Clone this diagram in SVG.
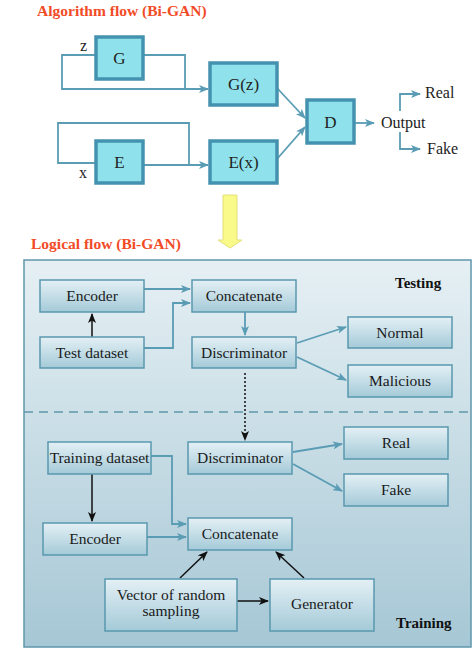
<svg xmlns="http://www.w3.org/2000/svg" width="474" height="671" viewBox="0 0 474 671">
<defs>
<linearGradient id="panelGrad" x1="0" y1="0" x2="0" y2="1">
<stop offset="0" stop-color="#e6f0f4"/>
<stop offset="1" stop-color="#a6c7d5"/>
</linearGradient>
<linearGradient id="boxGrad" x1="0" y1="0" x2="0" y2="1">
<stop offset="0" stop-color="#e4f0f5"/>
<stop offset="1" stop-color="#a4cad8"/>
</linearGradient>
<marker id="aT" markerWidth="10" markerHeight="8" refX="9" refY="4" orient="auto" markerUnits="userSpaceOnUse">
<path d="M0,0 L10,4 L0,8 L2.5,4 Z" fill="#5a9cb4"/>
</marker>
<marker id="aK" markerWidth="10" markerHeight="8" refX="9" refY="4" orient="auto" markerUnits="userSpaceOnUse">
<path d="M0,0 L10,4 L0,8 L2.5,4 Z" fill="#111"/>
</marker>
<style>
.title{font-family:"Liberation Serif",serif;font-weight:bold;font-size:15.5px;fill:#f24b27}
.big{fill:#8fe2ec;stroke:#4592b0;stroke-width:3.5}
.bigt{font-family:"Liberation Serif",serif;font-size:17px;fill:#222;text-anchor:middle}
.lbl{font-family:"Liberation Serif",serif;font-size:16px;fill:#222}
.box{fill:url(#boxGrad);stroke:#5a98ae;stroke-width:1.5}
.bt{font-family:"Liberation Serif",serif;font-size:15.5px;fill:#1a1a1a;text-anchor:middle}
.sec{font-family:"Liberation Serif",serif;font-weight:bold;font-size:15px;fill:#111}
.tl{fill:none;stroke:#5a9cb4;stroke-width:1.8}
.kl{fill:none;stroke:#111;stroke-width:1.5}
</style>
</defs>

<text class="title" x="37" y="16">Algorithm flow (Bi-GAN)</text>
<text class="title" x="31" y="249">Logical flow (Bi-GAN)</text>

<g id="connectors-top">
<path class="tl" d="M95,55 H62 V89 H208" marker-end="url(#aT)"/>
<path class="tl" d="M143,55 H185 V89"/>
<path class="tl" d="M95,163 H58 V123 H189 V165"/>
<path class="tl" d="M143,165 H208" marker-end="url(#aT)"/>
<path class="tl" d="M277,88 L305,118" marker-end="url(#aT)"/>
<path class="tl" d="M277,159 L305,127" marker-end="url(#aT)"/>
<path class="tl" d="M354,123 H374" marker-end="url(#aT)"/>
<path class="tl" d="M400,111 V94 H420" marker-end="url(#aT)"/>
<path class="tl" d="M400,132 V149 H420" marker-end="url(#aT)"/>
</g>

<g id="node-G"><rect class="big" x="96" y="37" width="47" height="42"/><text class="bigt" x="119.5" y="64">G</text></g>
<g id="node-Gz"><rect class="big" x="210" y="63" width="67" height="42"/><text class="bigt" x="243.5" y="90">G(z)</text></g>
<g id="node-E"><rect class="big" x="96" y="141" width="47" height="42"/><text class="bigt" x="119.5" y="168">E</text></g>
<g id="node-Ex"><rect class="big" x="210" y="141" width="67" height="42"/><text class="bigt" x="243.5" y="168">E(x)</text></g>
<g id="node-D"><rect class="big" x="307" y="100" width="47" height="43"/><text class="bigt" x="330.5" y="128">D</text></g>
<text class="lbl" x="80" y="51">z</text>
<text class="lbl" x="79" y="178">x</text>
<text class="lbl" x="381" y="128">Output</text>
<text class="lbl" x="425" y="98">Real</text>
<text class="lbl" x="427" y="154">Fake</text>

<g id="yellow-arrow">
<path d="M223,195 H237 V240 H242 L230,248 L218,240 H223 Z" fill="#fafa8a" stroke="#e2e07a" stroke-width="1"/>
</g>

<rect x="24" y="260" width="447" height="387" fill="url(#panelGrad)" stroke="#5f97ab" stroke-width="1.5"/>
<line x1="24" y1="412" x2="471" y2="412" stroke="#5f97ab" stroke-width="1.5" stroke-dasharray="9,6"/>
<text class="sec" x="395" y="288">Testing</text>
<text class="sec" x="396" y="628">Training</text>

<g id="connectors">
<path class="tl" d="M144,289 H190" marker-end="url(#aT)"/>
<path class="tl" d="M144,348 H173 V303 H190" marker-end="url(#aT)"/>
<path class="kl" d="M92,337 V314" marker-end="url(#aK)"/>
<path class="tl" d="M245,312 V335" marker-end="url(#aT)"/>
<path class="tl" d="M297,343 L346,327" marker-end="url(#aT)"/>
<path class="tl" d="M297,357 L346,380" marker-end="url(#aT)"/>
<path d="M245,373 V440" fill="none" stroke="#111" stroke-width="1.5" stroke-dasharray="2,2" marker-end="url(#aK)"/>
<path class="tl" d="M293,452 L342,444" marker-end="url(#aT)"/>
<path class="tl" d="M293,464 L342,491" marker-end="url(#aT)"/>
<path class="kl" d="M92,474 V521" marker-end="url(#aK)"/>
<path class="tl" d="M151,456 H172 V524 H186" marker-end="url(#aT)"/>
<path class="tl" d="M147,537 H186" marker-end="url(#aT)"/>
<path class="kl" d="M237,601 H268" marker-end="url(#aK)"/>
<path class="kl" d="M180,578 L207,552" marker-end="url(#aK)"/>
<path class="kl" d="M304,578 L276,552" marker-end="url(#aK)"/>
</g>

<g id="node-encoder-test"><rect class="box" x="40" y="280" width="104" height="32"/><text class="bt" x="92" y="301">Encoder</text></g>
<g id="node-concat-test"><rect class="box" x="192" y="280" width="104" height="32"/><text class="bt" x="244" y="301">Concatenate</text></g>
<g id="node-testdata"><rect class="box" x="40" y="337" width="104" height="31"/><text class="bt" x="92" y="358">Test dataset</text></g>
<g id="node-disc-test"><rect class="box" x="192" y="337" width="104" height="31"/><text class="bt" x="244" y="358">Discriminator</text></g>
<g id="node-normal"><rect class="box" x="348" y="317" width="104" height="31"/><text class="bt" x="400" y="338">Normal</text></g>
<g id="node-malicious"><rect class="box" x="348" y="365" width="104" height="32"/><text class="bt" x="400" y="386">Malicious</text></g>

<g id="node-traindata"><rect class="box" x="48" y="442" width="103" height="32"/><text class="bt" x="99.5" y="463">Training dataset</text></g>
<g id="node-disc-train"><rect class="box" x="188" y="442" width="104" height="32"/><text class="bt" x="240" y="463">Discriminator</text></g>
<g id="node-real"><rect class="box" x="344" y="427" width="104" height="32"/><text class="bt" x="396" y="448">Real</text></g>
<g id="node-fake"><rect class="box" x="344" y="474" width="104" height="32"/><text class="bt" x="396" y="495">Fake</text></g>
<g id="node-encoder-train"><rect class="box" x="43" y="523" width="104" height="32"/><text class="bt" x="95" y="544">Encoder</text></g>
<g id="node-concat-train"><rect class="box" x="188" y="518" width="104" height="32"/><text class="bt" x="240" y="539">Concatenate</text></g>
<g id="node-vector"><rect class="box" x="105" y="579" width="132" height="52"/><text class="bt" x="171" y="600">Vector of random</text><text class="bt" x="171" y="616">sampling</text></g>
<g id="node-generator"><rect class="box" x="270" y="579" width="104" height="52"/><text class="bt" x="322" y="609">Generator</text></g>
</svg>
